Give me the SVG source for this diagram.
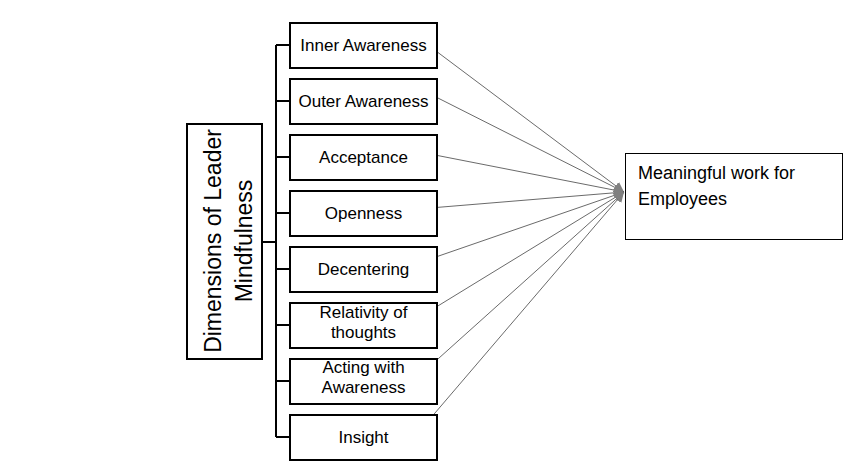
<svg xmlns="http://www.w3.org/2000/svg" width="861" height="469" viewBox="0 0 861 469">
<style>
.box{fill:#fff;stroke:#000;stroke-width:2}
.lbl{font-family:"Liberation Sans",Arial,sans-serif;font-size:17px;fill:#000;text-anchor:middle}
.big{font-family:"Liberation Sans",Arial,sans-serif;font-size:23px;fill:#000;text-anchor:middle}
.out{font-family:"Liberation Sans",Arial,sans-serif;font-size:18px;fill:#000}
.bus{stroke:#000;stroke-width:2;fill:none}
.arr{stroke:#595959;stroke-width:0.9;fill:none;marker-end:url(#ah)}
</style>
<defs>
<marker id="ah" markerUnits="userSpaceOnUse" markerWidth="12" markerHeight="10" refX="10" refY="5" orient="auto">
<path d="M0,0 L10,5 L0,10 Z" fill="#808080"/>
</marker>
</defs>
<rect width="861" height="469" fill="#fff"/>
<g id="connectors">
<path class="bus" d="M276,45 V437 M262,242 H276 M276,45 H290 M276,101 H290 M276,157 H290 M276,213 H290 M276,269 H290 M276,325 H290 M276,381 H290 M276,437 H290"/>
<line class="arr" x1="428" y1="45" x2="624" y2="192"/>
<line class="arr" x1="430" y1="94" x2="624" y2="192"/>
<line class="arr" x1="435" y1="155" x2="624" y2="192"/>
<line class="arr" x1="430" y1="208" x2="624" y2="192"/>
<line class="arr" x1="430" y1="259" x2="624" y2="192"/>
<line class="arr" x1="428" y1="312" x2="624" y2="192"/>
<line class="arr" x1="429" y1="367" x2="624" y2="192"/>
<line class="arr" x1="429" y1="420" x2="624" y2="192"/>
</g>
<g id="dimensions">
<rect class="box" x="187" y="124" width="75" height="235"/>
<text class="big" transform="translate(221,241) rotate(-90)">Dimensions of Leader</text>
<text class="big" transform="translate(252,241) rotate(-90)">Mindfulness</text>
</g>
<g id="inner"><rect class="box" x="290" y="23" width="147" height="45"/><text class="lbl" x="363.5" y="51">Inner Awareness</text></g>
<g id="outer"><rect class="box" x="290" y="79" width="147" height="45"/><text class="lbl" x="363.5" y="107">Outer Awareness</text></g>
<g id="acceptance"><rect class="box" x="290" y="135" width="147" height="45"/><text class="lbl" x="363.5" y="163">Acceptance</text></g>
<g id="openness"><rect class="box" x="290" y="191" width="147" height="45"/><text class="lbl" x="363.5" y="219">Openness</text></g>
<g id="decentering"><rect class="box" x="290" y="247" width="147" height="45"/><text class="lbl" x="363.5" y="275">Decentering</text></g>
<g id="relativity"><rect class="box" x="290" y="303" width="147" height="45"/><text class="lbl" x="363.5" y="318">Relativity of</text><text class="lbl" x="363.5" y="338">thoughts</text></g>
<g id="acting"><rect class="box" x="290" y="359" width="147" height="45"/><text class="lbl" x="363.5" y="373">Acting with</text><text class="lbl" x="363.5" y="393">Awareness</text></g>
<g id="insight"><rect class="box" x="290" y="415" width="147" height="45"/><text class="lbl" x="363.5" y="443">Insight</text></g>
<g id="meaningful"><rect x="625.5" y="153.5" width="217" height="86" fill="#fff" stroke="#000" stroke-width="1"/>
<text class="out" x="638" y="179">Meaningful work for</text>
<text class="out" x="638" y="205">Employees</text></g>
</svg>
